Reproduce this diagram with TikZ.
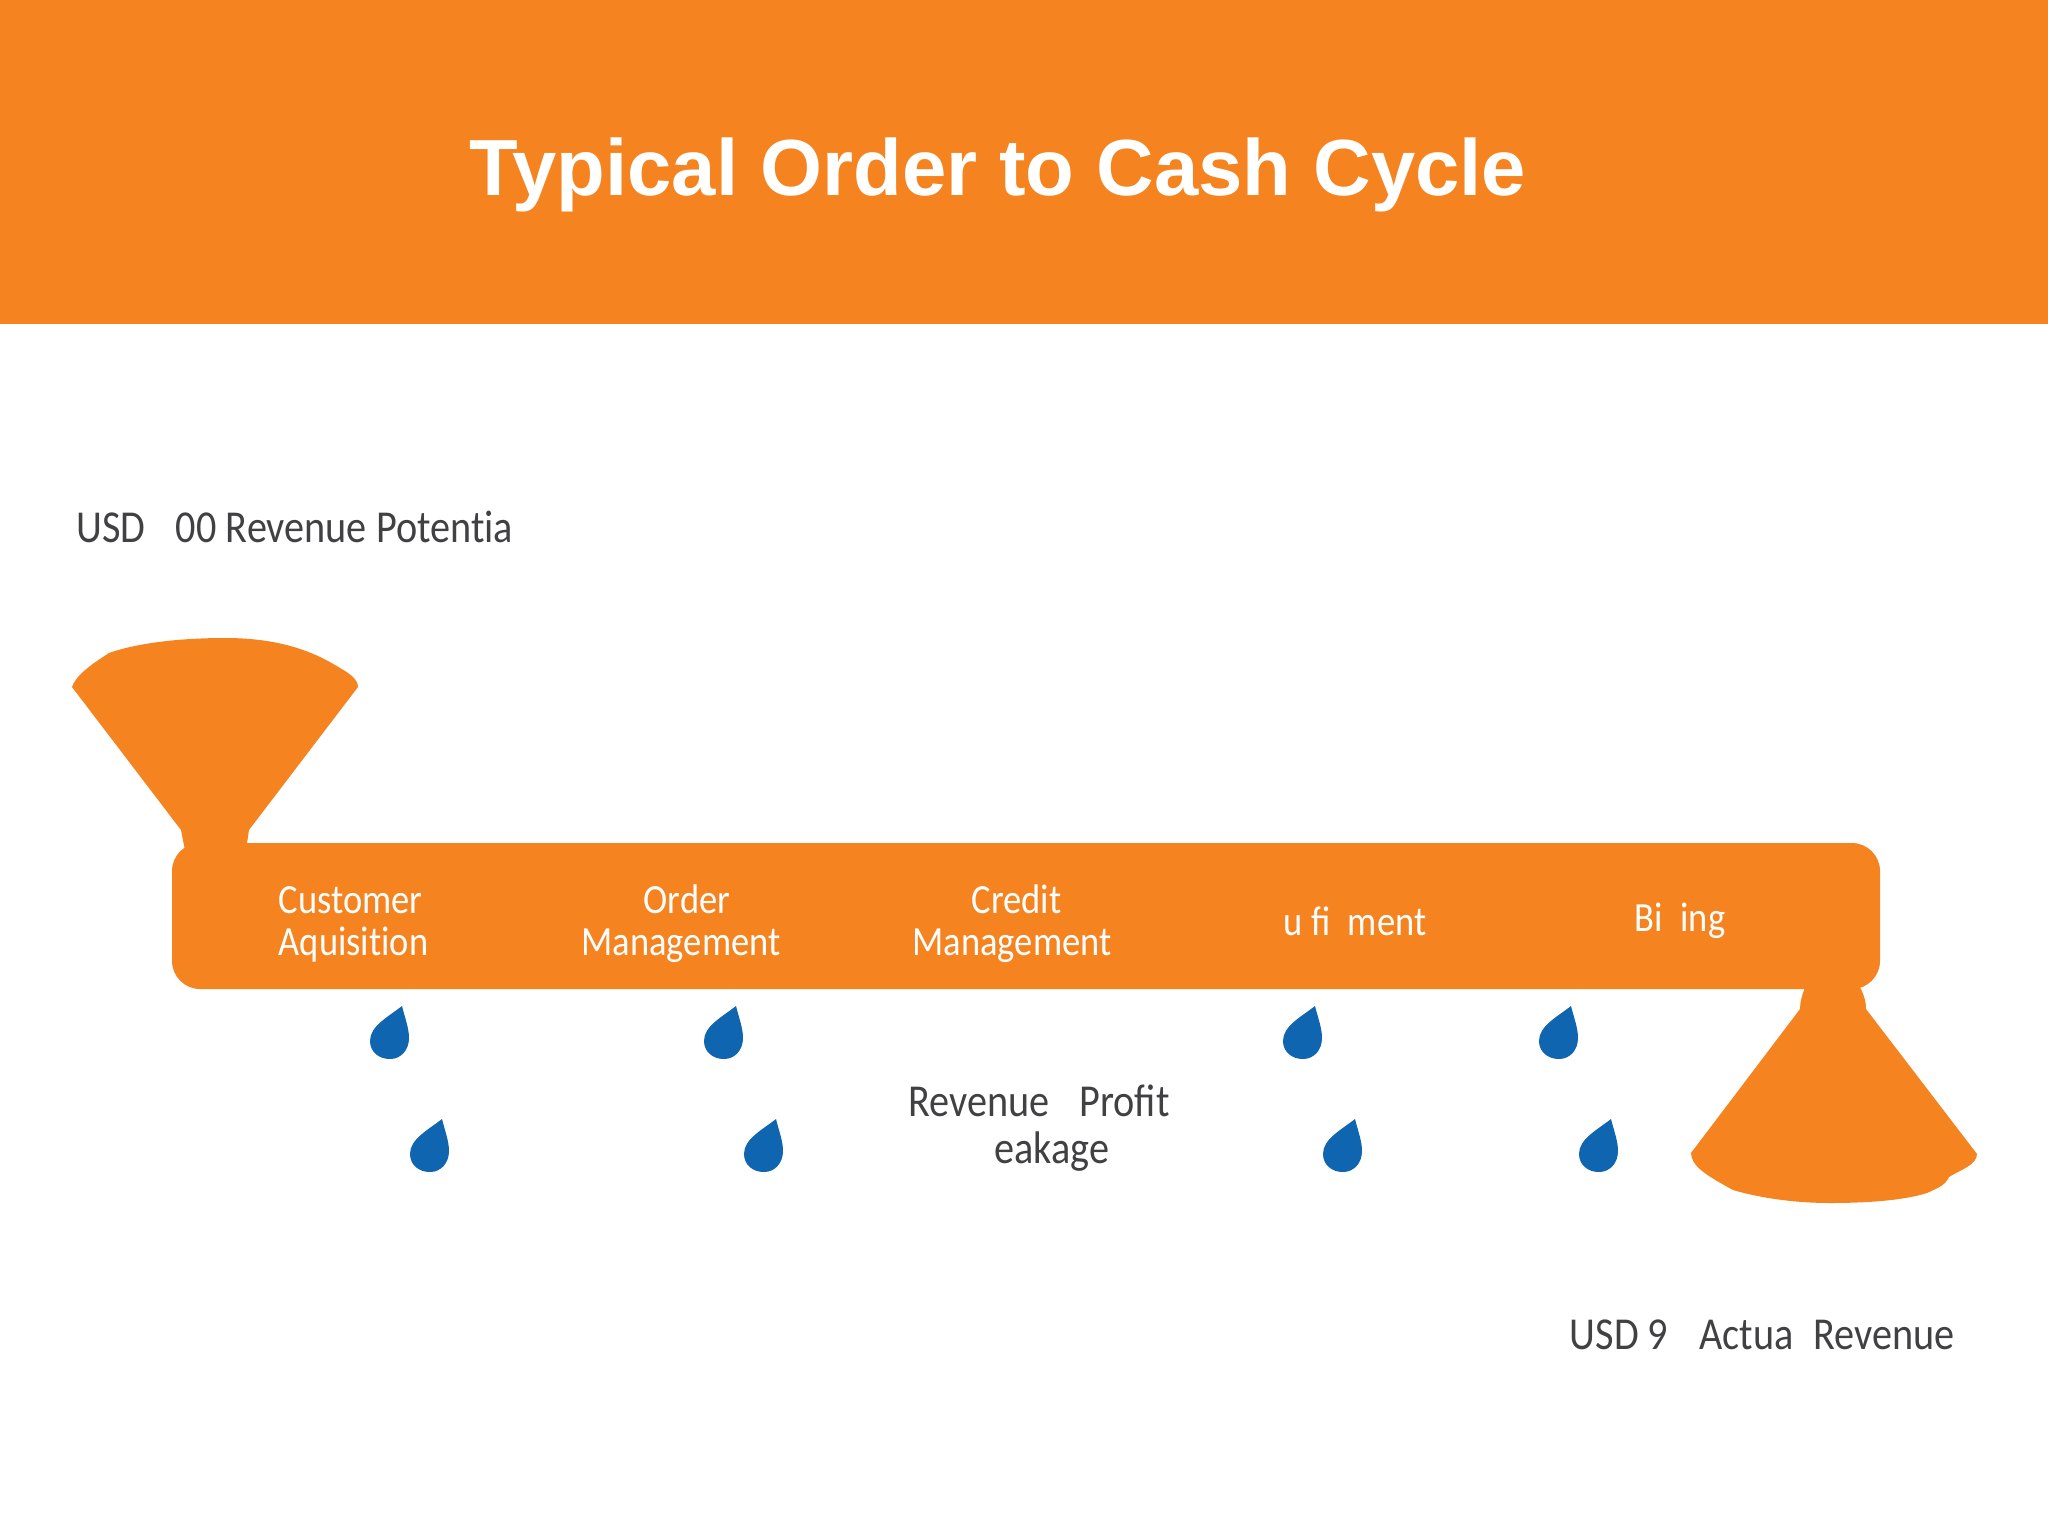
\documentclass[tikz,border=0pt]{standalone}
\usepackage{fontspec}
\setmainfont[FakeStretch=0.88]{Carlito}
\newfontfamily\titlefont{Liberation Sans}
\usepackage{xcolor}
\usetikzlibrary{calc}
\definecolor{funnelorange}{HTML}{F58420}
\definecolor{dropblue}{HTML}{0F65B0}
\definecolor{labelgray}{HTML}{414042}
\tikzset{
    stagelabel/.style={white, align=center, inner sep=0pt, font=\fontsize{11.8}{11.9}\selectfont},
    graylabel/.style={labelgray, align=center, inner sep=0pt, font=\fontsize{13}{13.3}\selectfont},
    funnelfill/.style={fill=funnelorange},
    dropfill/.style={fill=dropblue}
}
\begin{document}
\begin{tikzpicture}[x=0.01cm,y=-0.01cm]
        \useasboundingbox (0,0) rectangle (2048,1536);
        %HEADER
        \fill[funnelfill] (0,0) rectangle (2048,324);
        \node[white, inner sep=0pt, font=\titlefont\bfseries\fontsize{22.65}{26}\selectfont] (title) at (998,175) {Typical Order to Cash Cycle};
        %LABEL ATAS
        \node[graylabel, anchor=west] (potential) at (76,527) {USD\hspace{8.6pt}00 Revenue Potent\kern0pt ia};
        %FUNNEL KIRI
        \fill[funnelfill] (72,687) .. controls (76,675) and (92,664) .. (109,653)
            .. controls (140,642) and (185,638) .. (225,638)
            .. controls (270,638) and (305,647) .. (335,665)
            .. controls (347,672) and (358,678) .. (358,687)
            -- (249,830) -- (246,850) -- (185,850) -- (181,830) -- cycle;
        %BAR
        \fill[funnelfill, rounded corners=8pt] (172,843) rectangle (1880,989);
        \node[stagelabel, align=left] (customer) at (353.5,924) {Customer\\Aquisit\kern0pt ion};
        \node[stagelabel] (order) at (681,924) {\hspace{3.3pt}Order\\Management};
        \node[stagelabel] (credit) at (1012,924) {\hspace{2.6pt}Credit\\Management};
        \node[stagelabel] (fulfilment) at (1355,921) {u fi\hspace{5pt}ment};
        \node[stagelabel] (billing) at (1680,921) {Bi\hspace{5pt}ing};
        %FUNNEL KANAN
        \fill[funnelfill] (1806,985) .. controls (1802,995) and (1800,1002) .. (1800,1009)
            -- (1691,1153) .. controls (1692,1165) and (1700,1172) .. (1733,1190)
            .. controls (1760,1198) and (1795,1203) .. (1830,1203)
            .. controls (1870,1203) and (1905,1200) .. (1927,1193)
            .. controls (1940,1187) and (1945,1185) .. (1949,1177)
            .. controls (1960,1170) and (1977,1165) .. (1977,1154)
            -- (1866,1009) .. controls (1866,1000) and (1863,993) .. (1859,985) -- cycle;
        %TETESAN
        \foreach \tipx/\tipy in {402/1006, 736/1006, 1315/1006, 1571/1006, 442/1119, 776/1119, 1355/1119, 1611/1119}
            \fill[dropfill, shift={(\tipx,\tipy)}] (0,0)
                .. controls (-14,11) and (-32,20) .. (-32,35)
                .. controls (-32,46) and (-23,53) .. (-12,53)
                .. controls (-1,53) and (7,44) .. (7,32)
                .. controls (7,22) and (3,12) .. (0,0) -- cycle;
        %LABEL BAWAH
        \node[graylabel] (leakage) at (1039,1128) {Revenue\hspace{8.5pt}Profit\\\hspace{7.4pt}eakage};
        \node[graylabel, anchor=west] (actual) at (1569,1335) {USD 9\hspace{8.9pt}Actua\hspace{5.6pt}Revenue};
    \end{tikzpicture}
\end{document}
